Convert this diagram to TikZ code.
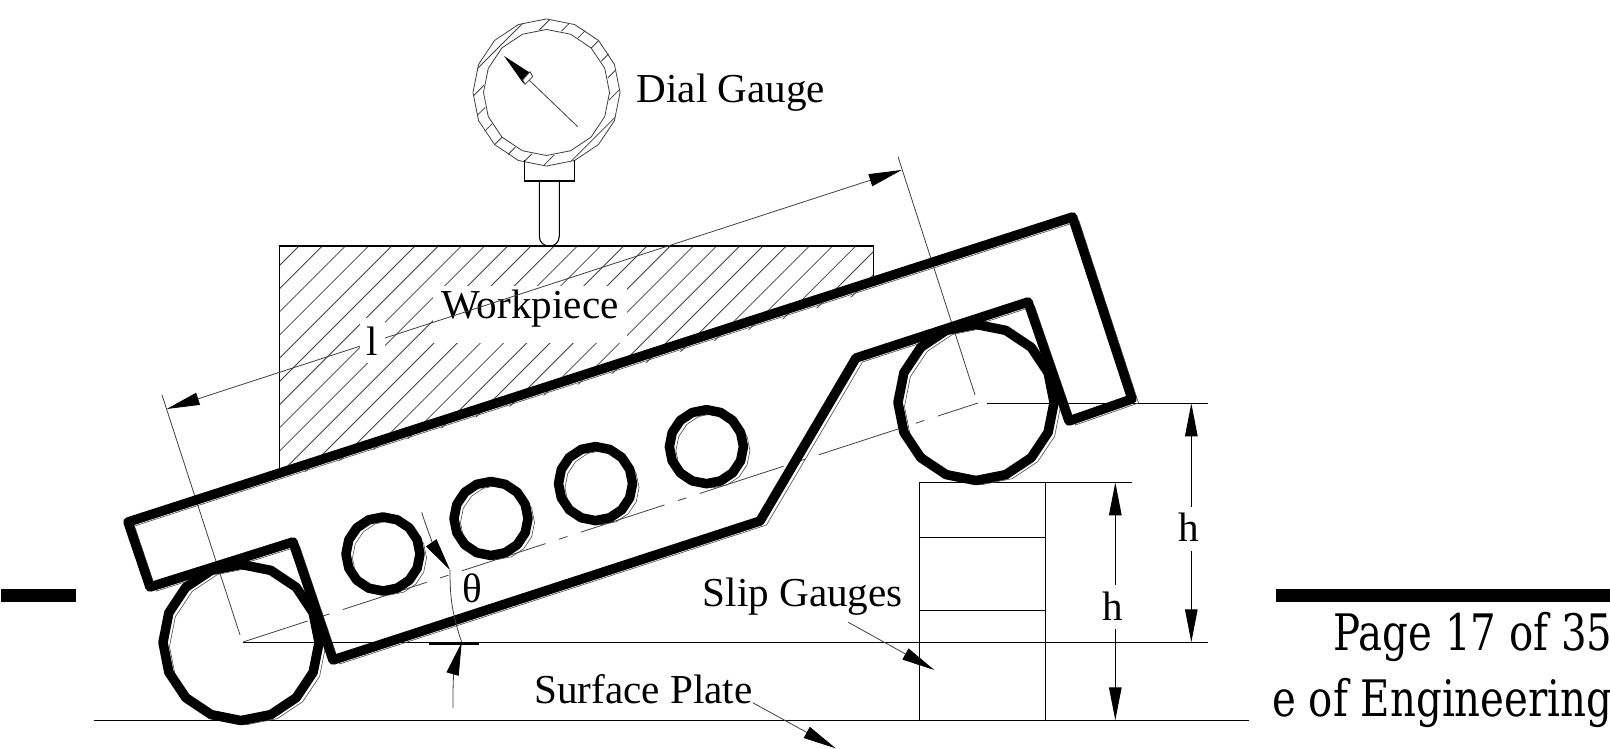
\documentclass[tikz,border=0pt]{standalone}
\usepackage{fontspec}
\usetikzlibrary{arrows.meta,shapes.geometric}
\setmainfont{Liberation Serif}
\newfontfamily\pagefont[FakeStretch=0.89]{DejaVu Serif Condensed}

\begin{document}
\begin{tikzpicture}[x=0.01cm,y=-0.01cm,
		dimtip/.tip={Triangle[length=0.33cm,width=0.125cm,color=black,fill=black]},
		thinline/.style={line width=0.011cm},
		hatchline/.style={line width=0.008cm,black!75},
		heavy/.style={line width=0.095cm,line join=round},
		ghost/.style={line width=0.006cm,black!70},
		lbl/.style={inner sep=0pt,font=\fontsize{11.7}{13}\selectfont},
		dimlbl/.style={lbl,anchor=base,fill=white,text height=0.35cm,text depth=0.09cm,minimum width=0.3cm},
		pagelbl/.style={inner sep=0pt,anchor=base east,font=\pagefont\fontsize{14.3}{16}\selectfont},
		disc/.style={regular polygon,regular polygon sides=16,shape border rotate=11.25,inner sep=0pt},
		roller/.style={disc,minimum size=1.56cm},
		hole/.style={disc,minimum size=0.74cm},
		rule/.style={fill=black,inner sep=0pt,anchor=north west}]

	\useasboundingbox (0,0) rectangle (1610,749);

	% hatching of the workpiece and of the gauge rim
	\begin{scope}
		\clip (279.5,246) -- (873.5,246) -- (873.5,290) -- (279.5,480) -- cycle;
		\foreach \s in {545,568.2,...,1160}
			\draw[hatchline] (\s,0) -- (0,\s);
	\end{scope}
	\begin{scope}[even odd rule]
		\clip (546.5,92.5) circle [radius=0.73cm] (546.5,92.5) circle [radius=0.63cm];
		\foreach \s in {546,569.3,...,740}
			\draw[hatchline] (\s,0) -- (0,\s);
	\end{scope}

	\node[disc,draw,hatchline,minimum size=1.47cm] (rim) at (546.5,92.5) {};
	\node[disc,draw,hatchline,minimum size=1.26cm] (face) at (546.5,92.5) {};
	\coordinate (pivot) at (577.7,126.7);
	\coordinate (needle) at (504,56);
	\draw[hatchline,-dimtip] (pivot) -- (needle);
	\draw[hatchline,fill=white] (522.7,80) -- (530,71.7) -- (532.7,76.7) -- (525,84.3) -- cycle;

	% stem of the gauge
	\draw[thinline] (524.3,160) -- (524.3,181) -- (574.3,181) -- (574.3,160);
	\draw[thinline] (539.3,181) -- (539.3,236) .. controls (539.3,249.5) and (559.3,249.5) .. (559.3,236) -- (559.3,181);

	% workpiece
	\draw[thinline] (279.5,468) -- (279.5,246) -- (873.5,246) -- (873.5,276);
	\node[lbl,anchor=base,fill=white,text height=0.33cm,text depth=0.24cm,minimum width=1.93cm] (work) at (530,319) {Workpiece};

	% slip gauges and reference lines
	\draw[thinline] (919.3,482.3) rectangle (1045.7,720.3);
	\draw[thinline] (919.3,537.3) -- (1045.7,537.3);
	\draw[thinline] (919.3,610.3) -- (1045.7,610.3);

	\coordinate (plateA) at (93.5,720.3);
	\coordinate (plateB) at (1249,720.3);
	\coordinate (levelA) at (243,642.3);
	\coordinate (levelB) at (1207.7,642.3);
	\coordinate (levelC) at (986.7,403.3);
	\coordinate (levelD) at (1207.7,403.3);
	\coordinate (levelE) at (919.3,482.3);
	\coordinate (levelF) at (1131.7,482.3);
	\coordinate (tickA) at (429,644);
	\coordinate (tickB) at (479,644);
	\draw[thinline] (plateA) -- (plateB);
	\draw[thinline] (levelA) -- (levelB);
	\draw[thinline] (levelC) -- (levelD);
	\draw[thinline] (levelE) -- (levelF);
	\draw[thinline] (tickA) -- (tickB);

	% centre line between the rollers
	\coordinate (centreL) at (243,642);
	\coordinate (centreR) at (978,403);
	\draw[hatchline,dash pattern=on 0.88cm off 0.14cm on 0.09cm off 0.14cm,dash phase=0.2cm] (centreL) -- (centreR);

	% extension lines and length
	\coordinate (extLa) at (162,395);
	\coordinate (extLb) at (240,635);
	\coordinate (extRa) at (898,156.7);
	\coordinate (extRb) at (975,395);
	\coordinate (lenL) at (166.7,409);
	\coordinate (lenR) at (901.7,170);
	\draw[hatchline] (extLa) -- (extLb);
	\draw[hatchline] (extRa) -- (extRb);
	\draw[hatchline,dimtip-dimtip] (lenL) -- (lenR);
	\node[dimlbl,text height=0.37cm,text depth=0.08cm,minimum width=0.25cm] (len) at (372.5,355) {l};

	% sine bar, rollers and holes
	\begin{scope}[shift={(6.5,4)}]
		\draw[ghost] (128,522) -- (150,587) -- (293,542) -- (333,660) -- (760,521) -- (856,358) -- (1028,302) -- (1069,421) -- (1132,399) -- (1072.5,217) -- cycle;
		\node[roller,draw,ghost] at (241,642.5) {};
		\node[roller,draw,ghost] at (976,402.5) {};
		\foreach \cx/\cy in {383/554,491/518.5,595.5/483.6,706.4/446.7}
			\node[hole,draw,ghost] at (\cx,\cy) {};
	\end{scope}
	\draw[heavy] (128,522) -- (150,587) -- (293,542) -- (333,660) -- (760,521) -- (856,358) -- (1028,302) -- (1069,421) -- (1132,399) -- (1072.5,217) -- cycle;
	\node[roller,draw,heavy] (rollerL) at (241,642.5) {};
	\node[roller,draw,heavy] (rollerR) at (976,402.5) {};
	\node[hole,draw,heavy] (holeA) at (383,554) {};
	\node[hole,draw,heavy] (holeB) at (491,518.5) {};
	\node[hole,draw,heavy] (holeC) at (595.5,483.6) {};
	\node[hole,draw,heavy] (holeD) at (706.4,446.7) {};

	% angle
	\coordinate (arcA) at (421.7,512.3);
	\coordinate (arcB) at (450,570);
	\coordinate (arcC) at (461.7,642.3);
	\coordinate (arcD) at (453,708);
	\draw[hatchline,-dimtip] (arcA) to[bend right=8.5] (arcB);
	\draw[hatchline] (arcB) to[bend right=9.5] (arcC);
	\draw[hatchline,-dimtip] (arcD) to[bend left=8.5] (arcC);
	\node[lbl,anchor=base] (theta) at (472,602) {θ};

	% heights
	\coordinate (hA) at (1115.3,482.3);
	\coordinate (hB) at (1115.3,720.3);
	\coordinate (hC) at (1191.3,403.3);
	\coordinate (hD) at (1191.3,642.3);
	\draw[thinline,dimtip-dimtip] (hA) -- (hB);
	\draw[thinline,dimtip-dimtip] (hC) -- (hD);
	\node[dimlbl] (hleft) at (1113,620) {h};
	\node[dimlbl] (hright) at (1189,541.7) {h};

	% labels and leaders
	\node[lbl,anchor=base west] (dial) at (636,102.5) {Dial Gauge};
	\node[lbl,anchor=base west] (slip) at (702,606) {Slip Gauges};
	\node[lbl,anchor=base west] (plate) at (533.5,703) {Surface Plate};
	\coordinate (slipA) at (848.3,622.3);
	\coordinate (slipB) at (934.3,670);
	\coordinate (plateC) at (752.7,702.7);
	\coordinate (plateD) at (835.7,748.3);
	\draw[hatchline,-dimtip] (slipA) -- (slipB);
	\draw[hatchline,-dimtip] (plateC) -- (plateD);

	% what is left of the page around the figure
	\node[rule,minimum width=0.75cm,minimum height=0.13cm] (ruleL) at (0,588) {};
	\node[rule,minimum width=3.35cm,minimum height=0.13cm] (ruleR) at (1275,588) {};
	\node[pagelbl] (page) at (1613,650) {Page 17 of 35};
	\node[pagelbl] (college) at (1613,716.7) {e of Engineering};
\end{tikzpicture}
\end{document}
